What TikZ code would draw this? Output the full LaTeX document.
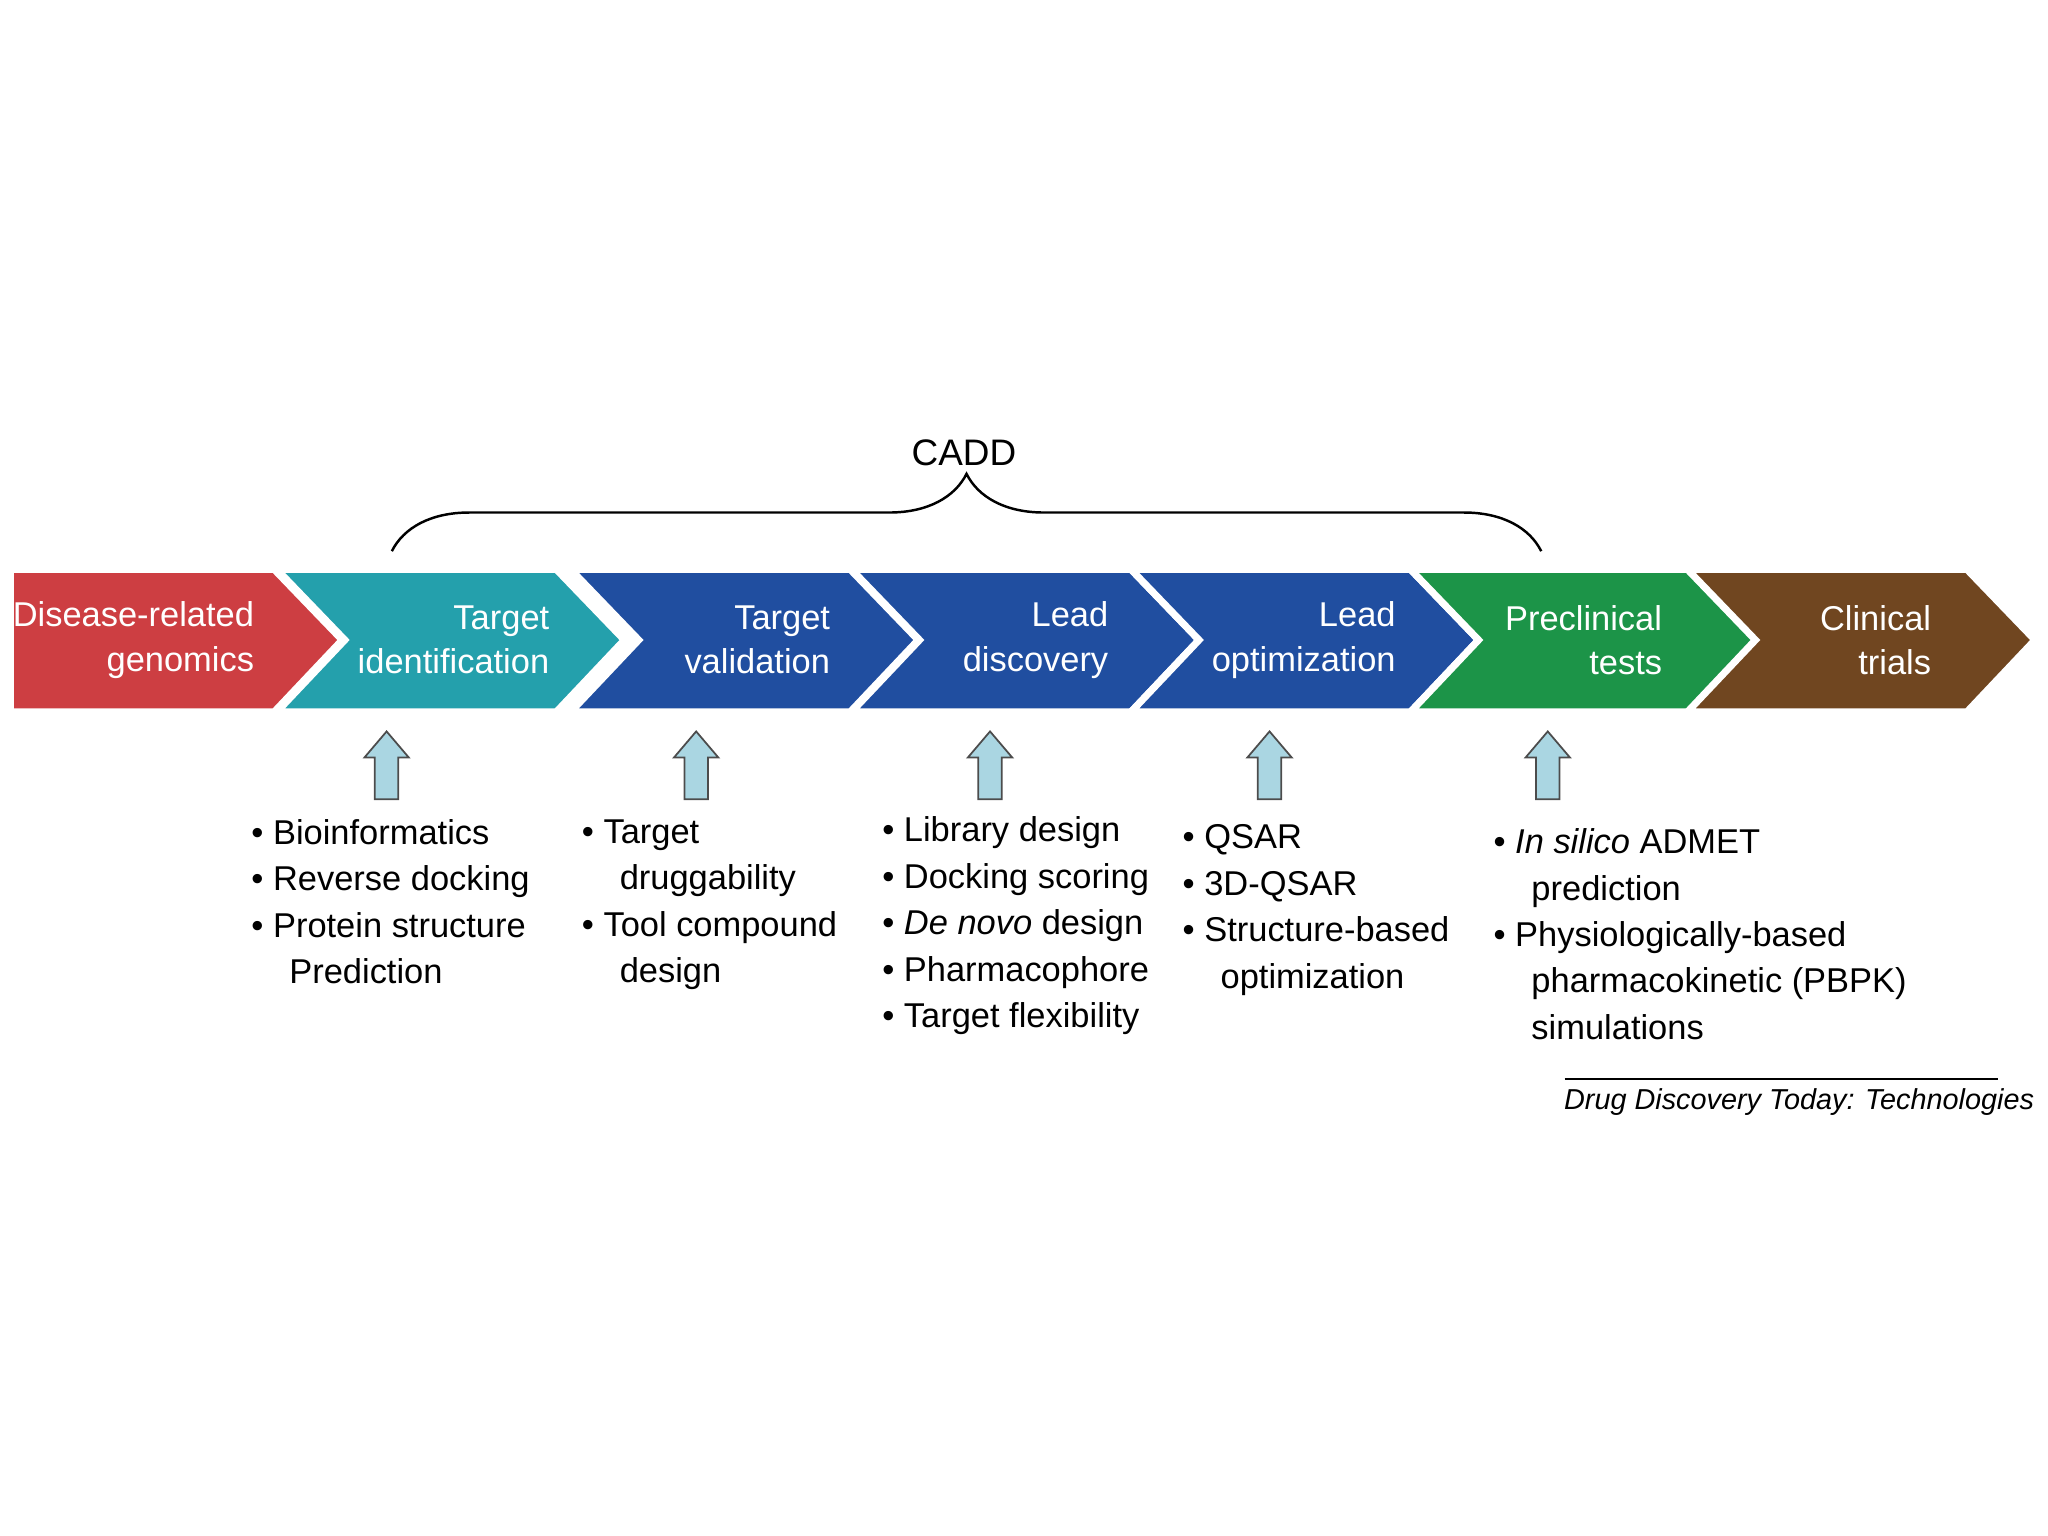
\documentclass[tikz,border=0pt]{standalone}
\usepackage{fontspec}
\setmainfont{Liberation Sans}
\usetikzlibrary{decorations.pathreplacing,shapes.arrows}
\definecolor{cred}{RGB}{205,62,66}
\definecolor{cteal}{RGB}{36,160,172}
\definecolor{cblue}{RGB}{32,78,160}
\definecolor{cgreen}{RGB}{28,148,72}
\definecolor{cbrown}{RGB}{112,70,32}
\definecolor{carrow}{RGB}{170,214,226}
\begin{document}
\begin{tikzpicture}[x=0.013061cm,y=-0.013061cm,
  lab/.style={text=white,font=\fontsize{9.8}{12.6}\selectfont,align=right,anchor=east},
  item/.style={font=\fontsize{9.8}{13.2}\selectfont,align=left,anchor=north west,inner sep=0pt},
  up/.style={draw=black!70,fill=carrow,line width=0.5pt}]
\useasboundingbox (0,0) rectangle (1568,1176);
% chevrons
\fill[cred,draw=white,line width=2pt] (8,436) -- (210,436) -- (262,490) -- (210,545) -- (8,545) -- cycle;
\foreach \s/\c in {212/cteal,437/cblue,652/cblue,866/cblue,1080/cgreen,1292/cbrown}{
  \fill[\c,draw=white,line width=2pt] (\s,436) -- (\s+214,436) -- (\s+266,490) -- (\s+214,545) -- (\s,545) -- (\s+52,490) -- cycle;}
\node[lab] (c1) at (204,490) {Disease-related\\genomics};
\node[lab] (c2) at (430,490) {Target\\identification};
\node[lab] (c3) at (645,490) {Target\\validation};
\node[lab] (c4) at (858,490) {Lead\\discovery};
\node[lab] (c5) at (1078,490) {Lead\\optimization};
\node[lab] (c6) at (1282,490) {Preclinical\\tests};
\node[lab] (c7) at (1488,490) {Clinical\\trials};
% brace
\coordinate (b1) at (300,422);
\coordinate (b2) at (1180,422);
\draw[decorate,decoration={brace,amplitude=22pt},line width=0.7pt] (b1) -- (b2);
\node[font=\fontsize{10.5}{13}\selectfont] (cadd) at (738,347) {CADD};
% arrows
\foreach \x/\n in {296/a1,533/a2,758/a3,972/a4,1185/a5}{
  \draw[up] (\x-9,612) -- (\x-9,580) -- (\x-17,580) -- (\x,560) -- (\x+17,580) -- (\x+9,580) -- (\x+9,612) -- cycle;}
% lists
\node[item] (l1) at (192,627) {• Bioinformatics\\• Reverse docking\\• Protein structure\\\hspace*{1.1em}Prediction};
\node[item] (l2) at (445,627) {• Target\\\hspace*{1.1em}druggability\\• Tool compound\\\hspace*{1.1em}design};
\node[item] (l3) at (675,625) {• Library design\\• Docking scoring\\• \textit{De novo} design\\• Pharmacophore\\• Target flexibility};
\node[item] (l4) at (905,631) {• QSAR\\• 3D-QSAR\\• Structure-based\\\hspace*{1.1em}optimization};
\node[item] (l5) at (1143,634) {• \textit{In silico} ADMET\\\hspace*{1.1em}prediction\\• Physiologically-based\\\hspace*{1.1em}pharmacokinetic (PBPK)\\\hspace*{1.1em}simulations};
% source
\coordinate (s1) at (1198,826);
\coordinate (s2) at (1530,826);
\draw[line width=0.5pt] (s1) -- (s2);
\node[anchor=west,inner sep=0pt,font=\itshape\fontsize{8.2}{10}\selectfont] (src) at (1197,844) {Drug Discovery Today: Technologies};
\end{tikzpicture}
\end{document}
